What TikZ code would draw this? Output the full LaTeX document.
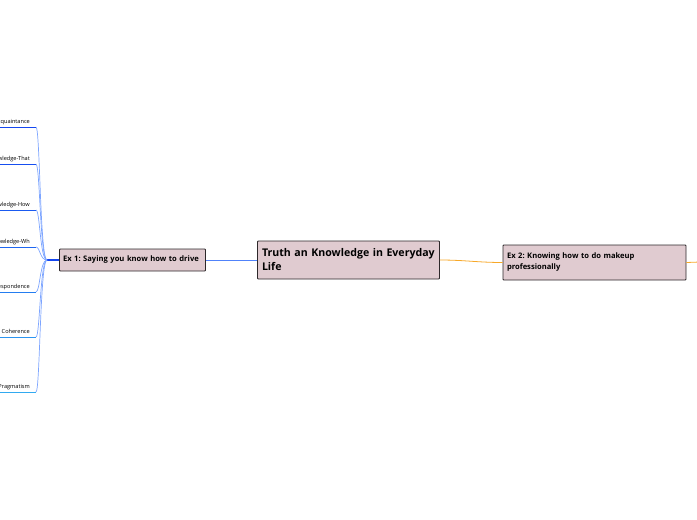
\documentclass[tikz,border=0pt]{standalone}
\usepackage{fontspec}
\setmainfont{Open Sans}
\frenchspacing
\hyphenpenalty=10000
\exhyphenpenalty=10000
\definecolor{boxfill}{RGB}{224,203,208}
\definecolor{boxline}{RGB}{45,40,42}
\definecolor{linkblue}{RGB}{80,130,250}
\definecolor{curveblue}{RGB}{125,165,255}
\definecolor{linkorange}{RGB}{247,168,40}
\definecolor{leaftop}{RGB}{20,70,240}
\definecolor{leafbot}{RGB}{50,170,240}
\begin{document}
\begin{tikzpicture}[x=1pt,y=-1pt,
  topic/.style={draw=boxline, fill=boxfill, line width=0.8pt, rounded corners=0.8pt, align=left},
  leaf/.style={font=\fontsize{5.6}{7}\selectfont, inner sep=0, anchor=base east},
  curve/.style={curveblue, line width=0.7pt}]
\useasboundingbox (0,0) rectangle (697,520);
\clip (0,0) rectangle (697,520);
% main boxes
\node[topic, text width=173pt, inner sep=4.5pt, minimum height=38pt, font=\bfseries\fontsize{10.6}{14}\selectfont] (main) at (348.5,260) {Truth an Knowledge in Everyday Life};
\node[topic, text width=139pt, inner sep=3.5pt, minimum height=22pt, font=\bfseries\fontsize{7.6}{11}\selectfont] (ex1) at (132.5,260) {Ex 1: Saying you know how to drive};
\node[topic, text width=175pt, inner sep=4pt, minimum height=35pt, font=\bfseries\fontsize{7.6}{11}\selectfont] (ex2) at (594.5,262.5) {Ex 2: Knowing how to do makeup professionally};
% links
\draw[linkblue, line width=0.8pt] (main.west) -- (ex1.east);
\draw[linkorange, line width=0.8pt] (main.east) to[out=0,in=180] (ex2.west);
\coordinate (ex2out) at (700,262);
\draw[linkorange, line width=0.8pt] (ex2.east) -- (ex2out);
\coordinate (hub) at (47,260);
\draw[leaftop, line width=1.4pt] (ex1.west) -- (hub);
% leaves
\foreach \y/\n/\t/\c in {127/acq/Knowledge by Acquaintance/100,
  164/that/Knowledge-That/92,
  210/how/Knowledge-How/80,
  247/wh/Knowledge-Wh/68,
  292/corr/Correspondence/45,
  337/coh/Coherence/22,
  392/prag/Pragmatism/0}{
  \coordinate (\n end) at (36,\y);
  \coordinate (\n start) at (-2,\y);
  \node[leaf] (\n) at (30,\y-3.5) {\t};
  \draw[curve] (hub) .. controls (40,260) and (40,\y) .. (\n end);
  \draw[leaftop!\c!leafbot, line width=1pt] (\n start) -- (\n end);
}
\end{tikzpicture}
\end{document}
